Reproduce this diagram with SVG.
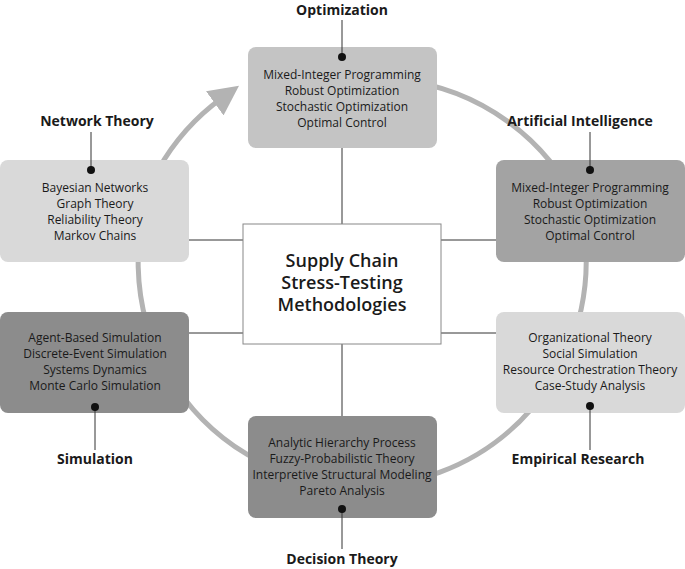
<svg xmlns="http://www.w3.org/2000/svg" width="685" height="569" viewBox="0 0 685 569">
<style>
text{font-family:"Open Sans","Noto Sans",sans-serif;fill:#1a1a1a;text-anchor:middle}
.it{font-size:12px}
.lb{font-size:14px;font-weight:bold}
.c{stroke:#333;stroke-width:1;fill:none}
.d{fill:#111}
</style>
<defs><marker id="ah" viewBox="0 0 10 10" refX="3" refY="5" markerWidth="6" markerHeight="6" orient="auto"><path d="M0,0L10,5L0,10z" fill="#b3b3b3"/></marker></defs>
<path d="M158,170 A224,224 0 1 0 580,210" fill="none" stroke="#b3b3b3" stroke-width="5"/>
<path d="M580,210 A224,224 0 0 0 400,80" fill="none" stroke="#b3b3b3" stroke-width="5"/>
<path d="M158,170 A224,224 0 0 1 222,98" fill="none" stroke="#b3b3b3" stroke-width="5" marker-end="url(#ah)"/>
<g id="connectors">
<line class="c" x1="342" y1="148" x2="342" y2="224"/>
<line class="c" x1="342" y1="344" x2="342" y2="416"/>
<line class="c" x1="189" y1="240" x2="243" y2="240"/>
<line class="c" x1="189" y1="333" x2="243" y2="333"/>
<line class="c" x1="441" y1="240" x2="496" y2="240"/>
<line class="c" x1="441" y1="333" x2="496" y2="333"/>
</g>
<g id="center"><rect x="243" y="224" width="198" height="120" fill="#fff" stroke="#888"/>
<text x="342" y="267" style="font-size:18px;font-weight:600">Supply Chain</text>
<text x="342" y="289" style="font-size:18px;font-weight:600">Stress-Testing</text>
<text x="342" y="311" style="font-size:18px;font-weight:600">Methodologies</text></g>
<g id="optimization"><rect x="248" y="47" width="189" height="101" rx="8" fill="#c4c4c4"/>
<text class="it" x="342" y="79">Mixed-Integer Programming</text><text class="it" x="342" y="95">Robust Optimization</text><text class="it" x="342" y="111">Stochastic Optimization</text><text class="it" x="342" y="127">Optimal Control</text>
<text class="lb" x="342" y="15">Optimization</text><line class="c" x1="342" y1="20" x2="342" y2="57"/><circle class="d" cx="342" cy="57" r="4"/></g>
<g id="network"><rect x="0" y="160" width="189" height="102" rx="8" fill="#d9d9d9"/>
<text class="it" x="95" y="192">Bayesian Networks</text><text class="it" x="95" y="208">Graph Theory</text><text class="it" x="95" y="224">Reliability Theory</text><text class="it" x="95" y="240">Markov Chains</text>
<text class="lb" x="97" y="126">Network Theory</text><line class="c" x1="91" y1="132" x2="91" y2="170"/><circle class="d" cx="91" cy="170" r="4"/></g>
<g id="ai"><rect x="496" y="160" width="189" height="102" rx="8" fill="#a3a3a3"/>
<text class="it" x="590" y="192">Mixed-Integer Programming</text><text class="it" x="590" y="208">Robust Optimization</text><text class="it" x="590" y="224">Stochastic Optimization</text><text class="it" x="590" y="240">Optimal Control</text>
<text class="lb" x="580" y="126">Artificial Intelligence</text><line class="c" x1="590" y1="132" x2="590" y2="170"/><circle class="d" cx="590" cy="170" r="4"/></g>
<g id="simulation"><rect x="0" y="312" width="189" height="101" rx="8" fill="#8c8c8c"/>
<text class="it" x="95" y="342">Agent-Based Simulation</text><text class="it" x="95" y="358">Discrete-Event Simulation</text><text class="it" x="95" y="374">Systems Dynamics</text><text class="it" x="95" y="390">Monte Carlo Simulation</text>
<text class="lb" x="95" y="464">Simulation</text><line class="c" x1="95" y1="407" x2="95" y2="450"/><circle class="d" cx="95" cy="407" r="4"/></g>
<g id="empirical"><rect x="496" y="312" width="189" height="101" rx="8" fill="#d9d9d9"/>
<text class="it" x="590" y="342">Organizational Theory</text><text class="it" x="590" y="358">Social Simulation</text><text class="it" x="590" y="374">Resource Orchestration Theory</text><text class="it" x="590" y="390">Case-Study Analysis</text>
<text class="lb" x="578" y="464">Empirical Research</text><line class="c" x1="590" y1="406" x2="590" y2="450"/><circle class="d" cx="590" cy="406" r="4"/></g>
<g id="decision"><rect x="248" y="416" width="189" height="102" rx="8" fill="#8c8c8c"/>
<text class="it" x="342" y="447">Analytic Hierarchy Process</text><text class="it" x="342" y="463">Fuzzy-Probabilistic Theory</text><text class="it" x="342" y="479">Interpretive Structural Modeling</text><text class="it" x="342" y="495">Pareto Analysis</text>
<text class="lb" x="342" y="564">Decision Theory</text><line class="c" x1="342" y1="509" x2="342" y2="549"/><circle class="d" cx="342" cy="509" r="4"/></g>
</svg>
